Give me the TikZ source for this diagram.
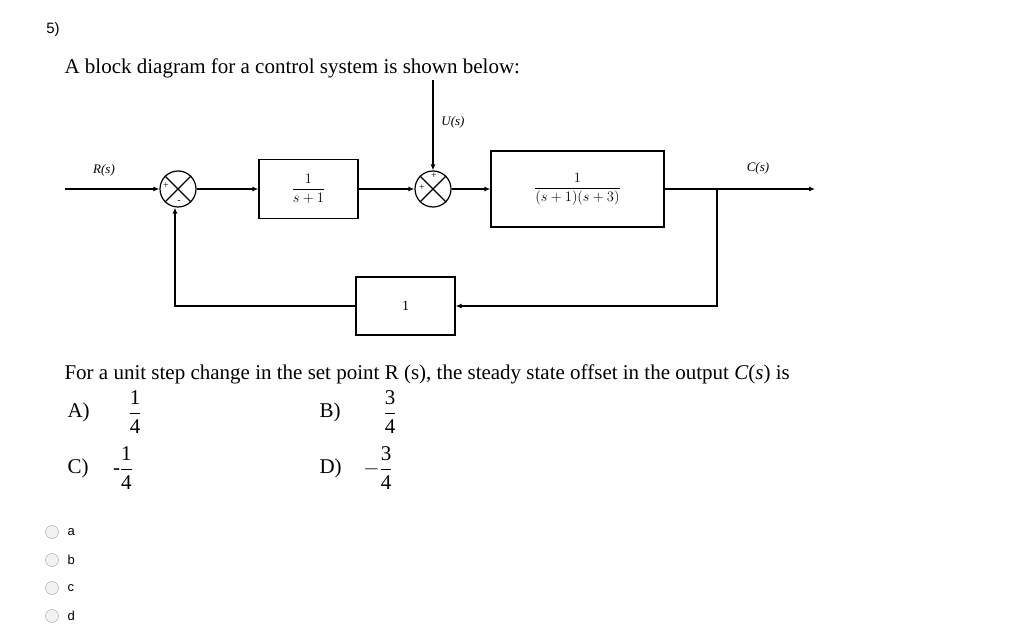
\documentclass[tikz,border=0pt]{standalone}
\usepackage{fontspec}
\setmainfont{Liberation Serif}
\newfontfamily\sansf{Liberation Sans}
\usetikzlibrary{arrows.meta}
\begin{document}
\begin{tikzpicture}[x=1pt,y=-1pt,
  blk/.style={draw,line width=1.2pt,inner sep=0pt},
  sumj/.style={draw,circle,line width=1.2pt,minimum size=36pt,inner sep=0pt},
  lab/.style={font=\fontsize{13}{15}\selectfont\itshape},
  txt/.style={font=\fontsize{21}{24}\selectfont,anchor=west},
  fr/.style={font=\fontsize{21}{24}\selectfont},
  sm/.style={font=\fontsize{10}{11}\selectfont},
  arr/.style={line width=1.2pt,-{Latex[length=6pt,width=5pt]}},
  ln/.style={line width=1.2pt},
  radio/.style={draw=gray!80,circle,minimum size=13pt,inner sep=0pt,fill=gray!10},
  opt/.style={font=\sansf\fontsize{13}{15}\selectfont,anchor=west}]
\useasboundingbox (0,0) rectangle (1014,644);
\node[font=\sansf\fontsize{15}{17}\selectfont] (q) at (53,30) {5)};
\node[txt] (t1) at (61,68) {A block diagram for a control system is shown below:};
% blocks
\node[sumj] (s1) at (178,189) {};
\draw[ln] (s1.45)--(s1.225) (s1.135)--(s1.315);
\node[sm] (p1) at (166,186) {+};
\node[sm] (m1) at (179,202) {-};
\node[blk,minimum width=99pt,minimum height=59pt] (b1) at (308.5,189) {};
\node[font=\fontsize{15}{17}\selectfont] (f1) at (308.5,189) {$\displaystyle\frac{1}{s+1}$};
\node[sumj] (s2) at (433,189) {};
\draw[ln] (s2.45)--(s2.225) (s2.135)--(s2.315);
\node[sm] (p2) at (422,188) {+};
\node[sm] (p3) at (434,176) {+};
\node[blk,minimum width=173pt,minimum height=76pt] (b2) at (577.5,189) {};
\node[font=\fontsize{15}{17}\selectfont] (f2) at (577.5,189) {$\displaystyle\frac{1}{(s+1)(s+3)}$};
\node[blk,minimum width=99pt,minimum height=58pt] (b3) at (405.5,306) {};
\node[font=\fontsize{14}{16}\selectfont] (f3) at (405.5,306) {1};
\coordinate (in) at (65,189);
\coordinate (ut) at (433,80);
\coordinate (br) at (717,189);
\coordinate (out) at (815,189);
\coordinate (fr) at (717,306);
\coordinate (fl) at (175,306);
\draw[arr] (in)--(s1.west);
\draw[arr] (s1.east)--(b1.west);
\draw[arr] (b1.east)--(s2.west);
\draw[arr] (ut)--(s2.north);
\draw[arr] (s2.east)--(b2.west);
\draw[arr] (b2.east)--(out);
\draw[arr] (br)--(fr)--(b3.east);
\draw[arr] (b3.west)--(fl)--(fl|-s1.south);
\node[lab] (R) at (104,170) {R(s)};
\node[lab] (U) at (453,122) {U(s)};
\node[lab] (C) at (758,168) {C(s)};
% question
\node[txt] (t2) at (61,374) {For a unit step change in the set point R (s), the steady state offset in the output \textit{C}(\textit{s}) is};
\node[txt] (A) at (64,412) {A)};
\node[fr] (Af) at (135,412) {$\displaystyle\frac{\mathrm{1}}{\mathrm{4}}$};
\node[txt] (B) at (316,412) {B)};
\node[fr] (Bf) at (390,412) {$\displaystyle\frac{\mathrm{3}}{\mathrm{4}}$};
\node[txt] (C1) at (64,468) {C)};
\node[fr] (Cf) at (123,468) {-$\displaystyle\frac{\mathrm{1}}{\mathrm{4}}$};
\node[txt] (D) at (316,468) {D)};
\node[fr] (Df) at (378,468) {$\displaystyle-\frac{\mathrm{3}}{\mathrm{4}}$};
% options
\foreach \y/\l [count=\i] in {532/a,560/b,588/c,616/d}{
  \node[radio] (r\i) at (52,\y) {};
  \node[opt] (o\i) at (64,\y) {\l};
}
\end{tikzpicture}
\end{document}
